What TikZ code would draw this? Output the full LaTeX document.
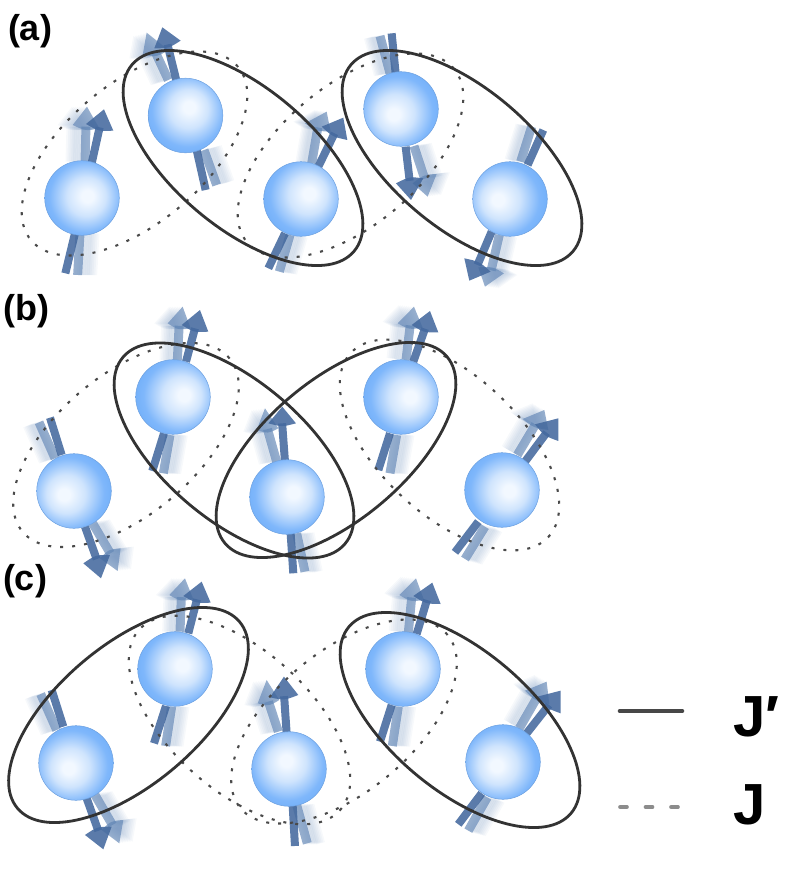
\documentclass[tikz,border=0pt]{standalone}
\usepackage{fontspec}
\setmainfont{Liberation Sans}
\usetikzlibrary{calc,shapes.geometric}
\definecolor{hl}{HTML}{F2F8FF}
\definecolor{md}{HTML}{CFE4FD}
\definecolor{ed}{HTML}{7FB7FB}
\definecolor{ee}{HTML}{6FAEF9}
\definecolor{dkc}{HTML}{44699E}
\definecolor{ltc}{HTML}{5F84B4}
\definecolor{ringc}{HTML}{333333}
\definecolor{dotc}{HTML}{4A4A4A}
\newcommand\mkshade[3]{\pgfdeclareradialshading{#1}{\pgfpoint{0.67bp*(#2)}{-0.67bp*(#3)}}{color(0bp)=(hl); color(4bp)=(hl); color(13bp)=(md); color(24bp)=(ed); color(31bp)=(ee); color(50bp)=(ee)}}
\mkshade{sa1}{6}{-2}\mkshade{sa2}{4}{-9}\mkshade{sa3}{9}{-6}\mkshade{sa4}{-8}{6}\mkshade{sa5}{-13}{1}
\mkshade{sb1}{-11}{4}\mkshade{sb2}{12}{-2}\mkshade{sb3}{7}{-5}\mkshade{sb4}{10}{0}\mkshade{sb5}{8}{1}
\mkshade{sc1}{-8}{6}\mkshade{sc2}{8}{-4}\mkshade{sc3}{-3}{-9}\mkshade{sc4}{7}{-2}\mkshade{sc5}{-7}{4}
\tikzset{
  zoomed/.style 2 args={shift={(#1,#2)},x=0.3333pt,y=-0.3333pt},
  dkarrow/.style={draw=dkc,fill=dkc,opacity=.88,line width=8pt},
  ltarrow/.style={draw=ltc,fill=ltc,opacity=.66,line width=9pt},
  blurarrow/.style={draw=ltc,fill=ltc,opacity=.05,line width=9pt},
  sphere/.style={circle,minimum size=74.6pt,inner sep=0pt,draw=ed!70!dkc,line width=.5pt},
  ring/.style={ellipse,draw=ringc,line width=2.8pt,inner sep=0pt,minimum width=290pt,minimum height=140pt},
  dotring/.style={ellipse,draw=dotc,line width=2.1pt,inner sep=0pt,minimum width=270pt,minimum height=140pt,dash pattern=on 3pt off 9pt},
  panel/.style={font=\bfseries\fontsize{36}{36}\selectfont,inner sep=0pt},
  jlabel/.style={font=\bfseries\fontsize{58}{58}\selectfont,inner sep=0pt,anchor=base west}
}
% head: style, start, tip, corner, corner
\newcommand\zhead[5]{%
  \coordinate (zm) at ($(#4)!.5!(#5)$);
  \coordinate (zk) at ($(zm)!-.22!(#3)$);
  \path[#1,fill=none] (#2) -- (zm);
  \path[#1,draw=none] (#3) -- (#4) .. controls (zk) .. (#5) -- cycle;}
\newcommand\ztail[3]{\path[#1,fill=none] (#2) -- (#3);}
% pair with blur: blur vector, start, tip, corner, corner
\newcommand\lhead[6]{%
  \foreach \i in {1,...,8}{\begin{scope}[shift={({\i/8*(#1)},{\i/8*(#2)})}]\zhead{blurarrow}{#3}{#4}{#5}{#6}\end{scope}}
  \zhead{ltarrow}{#3}{#4}{#5}{#6}}
\newcommand\ltail[4]{%
  \foreach \i in {1,...,8}{\begin{scope}[shift={({\i/8*(#1)},{\i/8*(#2)})}]\ztail{blurarrow}{#3}{#4}\end{scope}}
  \ztail{ltarrow}{#3}{#4}}
\begin{document}
\begin{tikzpicture}[x=1pt,y=-1pt,line cap=butt]
\useasboundingbox (0,0) rectangle (787,884);
% ---------- arrows
\begin{scope}[zoomed={0}{0}]
  \lhead{-45}{0}{255,485}{261,320}{218,375}{298,385}
  \zhead{dkarrow}{275,490}{312,328}{258,372}{340,392}
  \ltail{45}{0}{240,700}{233,825}
  \ztail{dkarrow}{225,700}{196,820}
  \lhead{-40}{10}{505,240}{440,98}{428,165}{505,150}
  \zhead{dkarrow}{530,245}{487,82}{463,145}{542,122}
  \ltail{40}{-10}{612,450}{650,555}
  \ztail{dkarrow}{590,450}{617,570}
\end{scope}
\begin{scope}[zoomed={230}{20}]
  \lhead{-35}{-5}{245,430}{290,275}{225,310}{302,335}
  \zhead{dkarrow}{265,440}{340,293}{275,320}{352,360}
  \ltail{40}{5}{180,645}{148,755}
  \ztail{dkarrow}{165,640}{115,745}
  \ltail{-35}{5}{480,160}{450,48}
  \ztail{dkarrow}{497,160}{485,40}
  \lhead{40}{-5}{552,378}{593,530}{548,490}{620,462}
  \zhead{dkarrow}{527,380}{543,540}{498,490}{580,475}
  \ltail{-35}{-5}{872,425}{905,320}
  \ztail{dkarrow}{893,435}{940,330}
  \lhead{40}{5}{808,645}{765,800}{745,742}{822,760}
  \zhead{dkarrow}{785,635}{718,782}{703,715}{782,755}
\end{scope}
\begin{scope}[zoomed={0}{295}]
  \ltail{-35}{10}{165,490}{117,382}
  \ztail{dkarrow}{185,480}{150,368}
  \lhead{40}{-5}{278,685}{353,828}{300,790}{362,760}
  \zhead{dkarrow}{255,695}{303,850}{250,805}{330,780}
  \lhead{-40}{0}{532,195}{548,35}{503,85}{572,100}
  \zhead{dkarrow}{558,200}{600,45}{545,90}{625,110}
  \ltail{40}{0}{510,420}{490,535}
  \ztail{dkarrow}{492,415}{457,528}
  \lhead{-40}{5}{830,500}{795,340}{770,405}{835,400}
  \zhead{dkarrow}{855,500}{847,335}{805,385}{888,385}
  \ltail{40}{0}{890,715}{915,830}
  \ztail{dkarrow}{872,715}{880,835}
\end{scope}
\begin{scope}[zoomed={280}{295}]
  \lhead{-45}{-5}{378,195}{402,35}{353,85}{428,98}
  \zhead{dkarrow}{400,200}{450,48}{395,90}{475,112}
  \ltail{40}{0}{350,420}{330,535}
  \ztail{dkarrow}{330,415}{295,525}
  \lhead{-35}{-20}{712,480}{793,345}{728,372}{805,405}
  \zhead{dkarrow}{735,500}{835,370}{765,388}{835,438}
  \ltail{40}{10}{615,695}{555,792}
  \ztail{dkarrow}{595,680}{525,772}
\end{scope}
\begin{scope}[zoomed={0}{560}]
  \ltail{-35}{10}{170,510}{122,402}
  \ztail{dkarrow}{190,500}{155,390}
  \lhead{40}{-5}{285,705}{358,850}{305,810}{370,780}
  \zhead{dkarrow}{260,715}{310,868}{255,825}{335,800}
  \lhead{-40}{0}{540,215}{555,55}{508,105}{580,118}
  \zhead{dkarrow}{565,220}{605,65}{550,108}{632,128}
  \ltail{40}{0}{515,440}{497,558}
  \ztail{dkarrow}{498,438}{462,550}
  \lhead{-40}{5}{835,515}{800,360}{773,430}{838,420}
  \zhead{dkarrow}{860,520}{852,350}{810,412}{895,405}
  \ltail{40}{0}{890,735}{922,850}
  \ztail{dkarrow}{878,735}{885,858}
\end{scope}
\begin{scope}[zoomed={280}{560}]
  \lhead{-45}{-5}{385,218}{408,55}{358,105}{432,120}
  \zhead{dkarrow}{410,222}{457,68}{400,108}{482,132}
  \ltail{40}{0}{355,440}{337,558}
  \ztail{dkarrow}{335,435}{300,545}
  \lhead{-35}{-20}{718,505}{800,365}{735,392}{808,432}
  \zhead{dkarrow}{740,520}{842,392}{772,410}{842,460}
  \ltail{40}{10}{622,712}{565,812}
  \ztail{dkarrow}{605,700}{535,793}
\end{scope}
% ---------- spheres
\node[sphere,shading=sa1] (a1) at (82,198) {};
\node[sphere,shading=sa2] (a2) at (185.5,115.5) {};
\node[sphere,shading=sa3] (a3) at (301,199) {};
\node[sphere,shading=sa4] (a4) at (401,109) {};
\node[sphere,shading=sa5] (a5) at (510,199) {};
\node[sphere,shading=sb1] (b1) at (74,491) {};
\node[sphere,shading=sb2] (b2) at (173,397) {};
\node[sphere,shading=sb3] (b3) at (287,497) {};
\node[sphere,shading=sb4] (b4) at (401,397) {};
\node[sphere,shading=sb5] (b5) at (502,490) {};
\node[sphere,shading=sc1] (c1) at (76,763) {};
\node[sphere,shading=sc2] (c2) at (175,669) {};
\node[sphere,shading=sc3] (c3) at (289,769) {};
\node[sphere,shading=sc4] (c4) at (403,669) {};
\node[sphere,shading=sc5] (c5) at (503,762) {};
% ---------- J couplings
\node[dotring,rotate=40] (da1) at (134.5,153.5) {};
\node[dotring,rotate=40] (da2) at (350.5,155.5) {};
\node[dotring,rotate=40] (db1) at (126,445) {};
\node[dotring,rotate=-43] (db2) at (449.5,445) {};
\node[dotring,rotate=-42] (dc1) at (239.5,720) {};
\node[dotring,rotate=40] (dc2) at (344,721.5) {};
% ---------- J' couplings
\node[ring,rotate=-40] (ra1) at (243,158) {};
\node[ring,rotate=-40] (ra2) at (462,158) {};
\node[ring,rotate=-40] (rb1) at (234,450.5) {};
\node[ring,rotate=40] (rb2) at (336,450) {};
\node[ring,rotate=40] (rc1) at (128.5,715) {};
\node[ring,rotate=-40] (rc2) at (460,720) {};
% ---------- labels
\node[panel] (la) at (30,31) {(a)};
\node[panel] (lb) at (26,311) {(b)};
\node[panel] (lc) at (25,581) {(c)};
% ---------- legend
\coordinate (l1a) at (620,711);
\coordinate (l1b) at (682,711);
\coordinate (l2a) at (620,807);
\coordinate (l2b) at (682,807);
\draw[ringc!90,line width=4.6pt,line cap=round] (l1a) -- (l1b);
\draw[gray!90,line width=3.6pt,line cap=round,dash pattern=on 7pt off 18.5pt] (l2a) -- (l2b);
\node[jlabel] (jp) at (733,736) {J′};
\node[jlabel] (j) at (733,824) {J};
\end{tikzpicture}
\end{document}
